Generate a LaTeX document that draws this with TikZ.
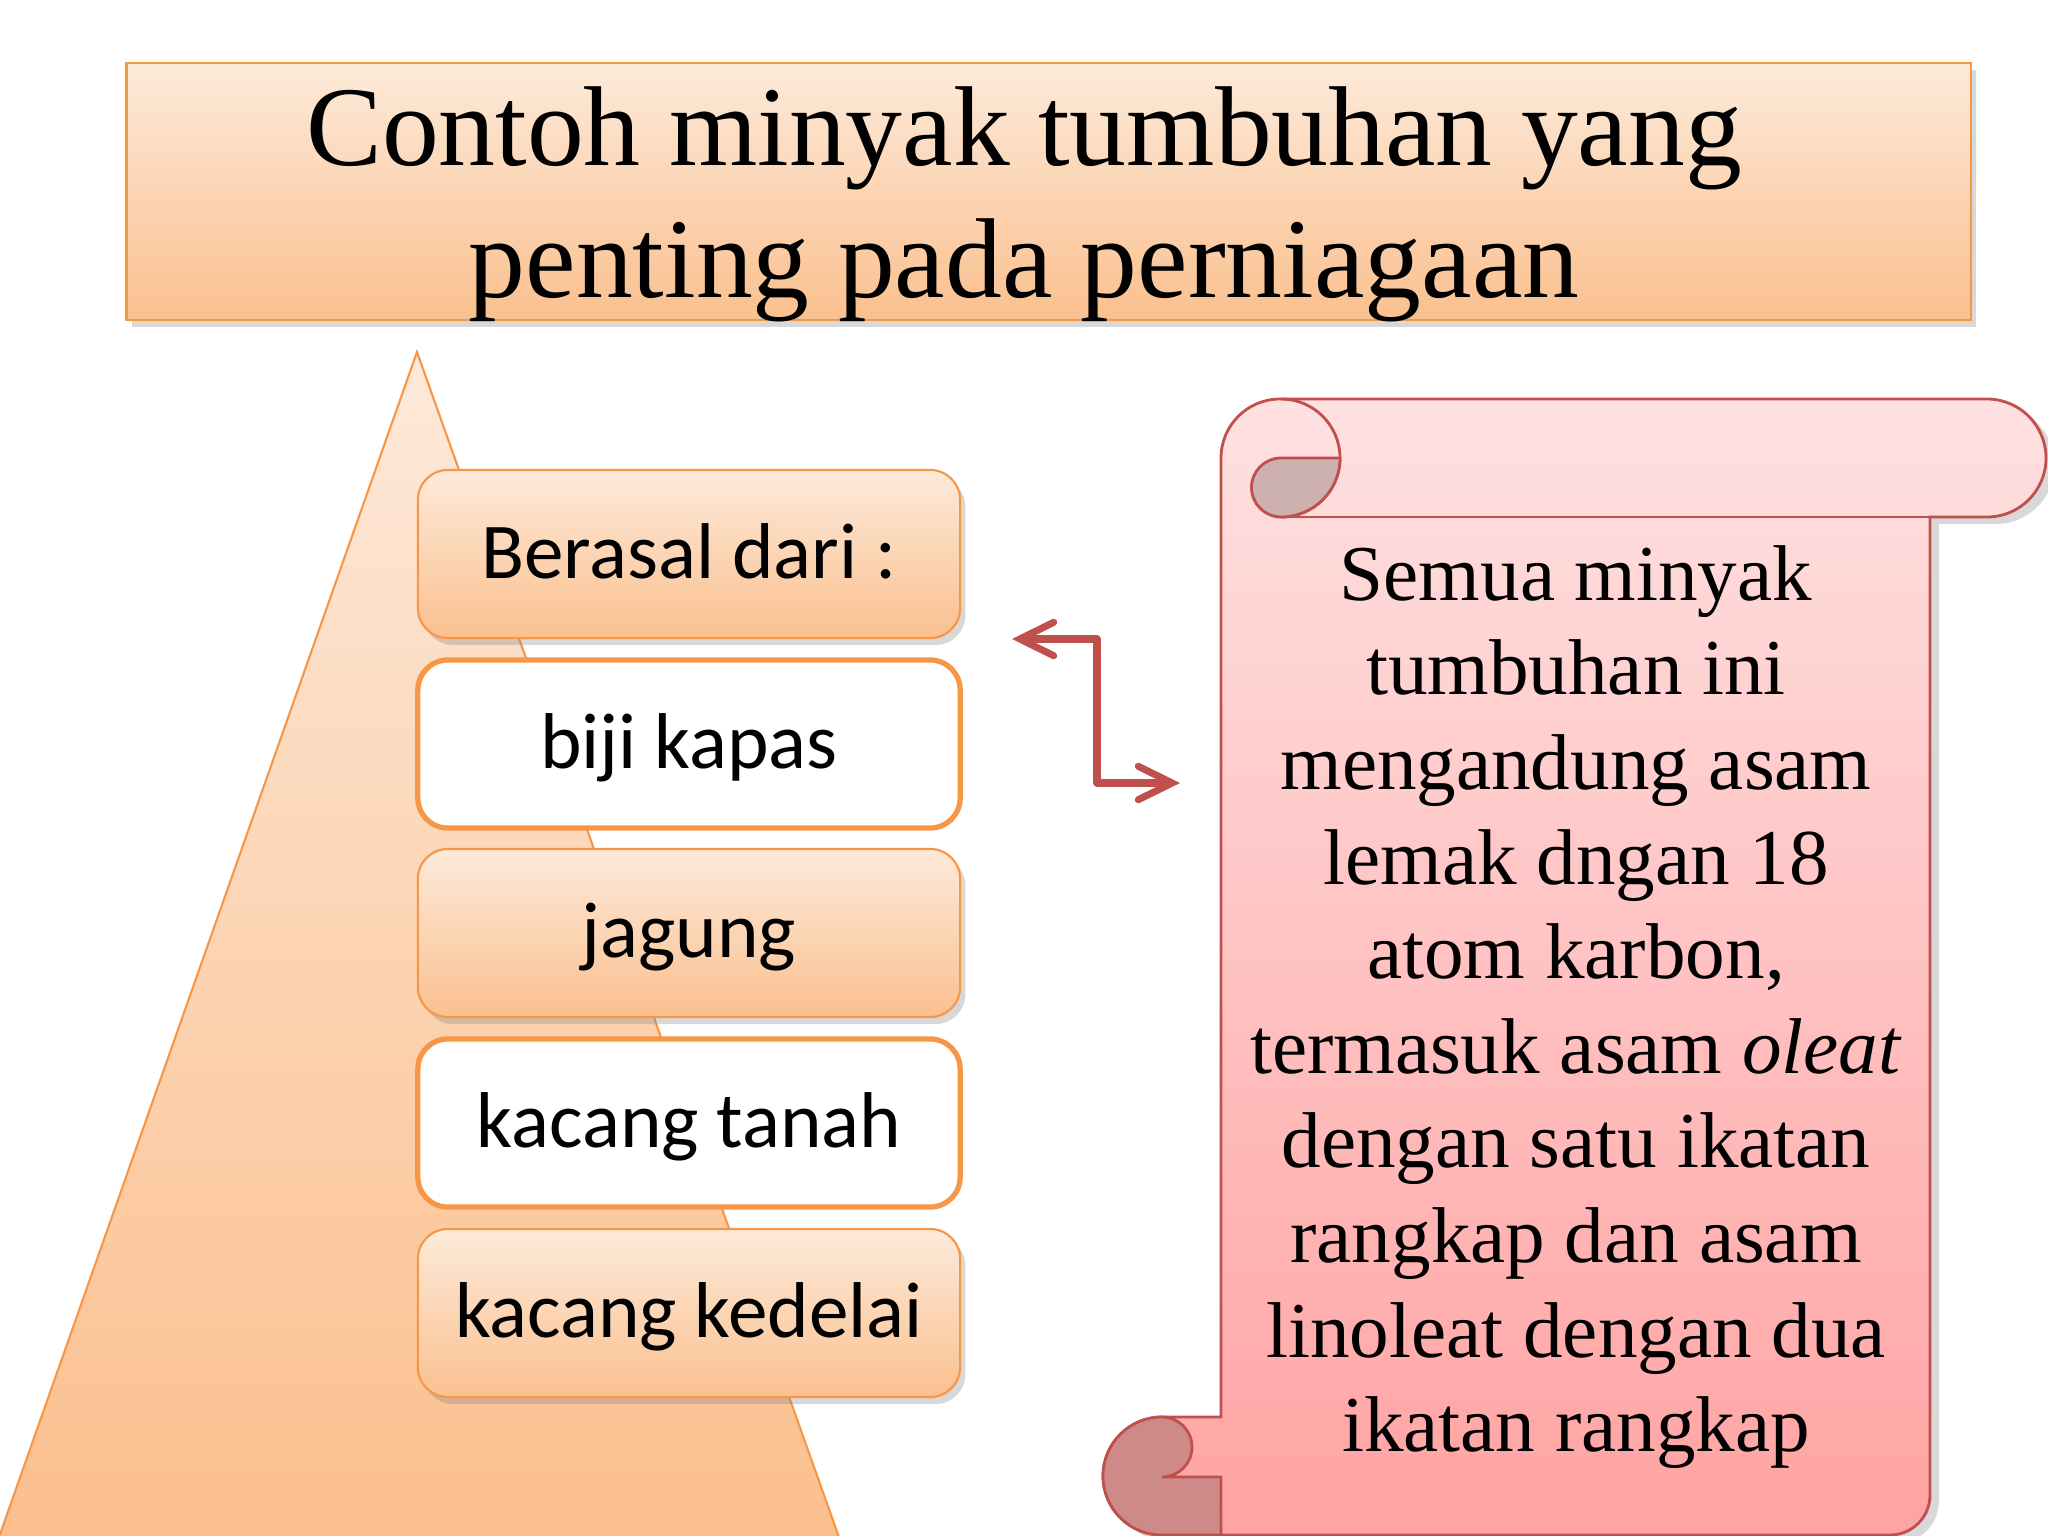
\documentclass[tikz,border=0pt]{standalone}
\usepackage{fontspec}
\setmainfont{Liberation Serif}
\newfontfamily\boxfont{Carlito}
\usetikzlibrary{shadows,arrows.meta}
\definecolor{orline}{HTML}{F79646}
\definecolor{ortop}{HTML}{FDEADA}
\definecolor{orbot}{HTML}{FAC08F}
\definecolor{tritop}{HTML}{FDE9DA}
\definecolor{tribot}{HTML}{FBBF8D}
\definecolor{redline}{HTML}{C0504D}
\definecolor{pinktop}{HTML}{FFE1E1}
\definecolor{pinkbot}{HTML}{FFA3A3}
\definecolor{curltop}{HTML}{CCB1AF}
\definecolor{curlbot}{HTML}{CD8A89}
\tikzset{
  softshadow/.style={drop shadow={opacity=0.3, shadow xshift=1.5pt, shadow yshift=-2pt}},
  gradbox/.style={rectangle, rounded corners=0.3cm, draw=orline, line width=0.6pt,
    top color=ortop, bottom color=orbot, minimum width=5.42cm, minimum height=1.68cm,
    font=\boxfont\fontsize{22.5}{27}\selectfont, text height=17pt, text depth=3pt, softshadow},
  whitebox/.style={rectangle, rounded corners=0.3cm, draw=orline, line width=1.5pt,
    fill=white, minimum width=5.42cm, minimum height=1.68cm,
    font=\boxfont\fontsize{22.5}{27}\selectfont, text height=17pt, text depth=3pt},
  titlebox/.style={rectangle, draw=orline, line width=0.6pt, top color=ortop, bottom color=orbot,
    minimum width=18.43cm, minimum height=2.57cm, softshadow},
  scrolledge/.style={draw=redline, line width=0.8pt},
  arrowline/.style={draw=redline, line width=2pt, line cap=round, line join=round,
    {Straight Barb[length=9.6pt,width=9.5pt,line cap=round]}-{Straight Barb[length=9.6pt,width=9.5pt,line cap=round]}}
}
\begin{document}
\begin{tikzpicture}[x=0.01cm,y=-0.01cm]
\useasboundingbox (0,0) rectangle (2048,1536);
\fill[white] (0,0) rectangle (2048,1536);

% title
\node[titlebox] (title) at (1048.5,191.5) {};
\node[font=\fontsize{32.3}{37.5}\selectfont, align=center] (titletext) at (1024,204)
  {Contoh minyak tumbuhan yang\\penting pada perniagaan};

% pyramid
\path[draw=orline, line width=0.6pt, top color=tritop, bottom color=tribot]
  (417,352) -- (840,1540) -- (-2,1540) -- cycle;

% boxes
\node[gradbox] (b1) at (689,554) {Berasal dari :};
\node[whitebox] (b2) at (689,744) {biji kapas};
\node[gradbox] (b3) at (689,933) {jagung};
\node[whitebox] (b4) at (689,1123) {kacang tanah};
\node[gradbox] (b5) at (689,1313) {kacang kedelai};

% elbow double arrow
\coordinate (arrL) at (1012,639);
\coordinate (arrM) at (1097,711);
\coordinate (arrR) at (1180,783);
\draw[arrowline] (arrL) -| (arrM) |- (arrR);

% scroll body
\path[scrolledge, top color=pinktop, bottom color=pinkbot, drop shadow={opacity=0.3, shadow xshift=2.5pt, shadow yshift=-2pt}]
  (1281,399) -- (1987,399) arc[start angle=-90, end angle=90, radius=59]
  -- (1930,517) -- (1930,1495) arc[start angle=0, end angle=90, radius=40]
  -- (1162,1535) arc[start angle=90, end angle=270, radius=59]
  -- (1221,1417) -- (1221,458) arc[start angle=180, end angle=270, radius=59] -- cycle;
% top curl
\draw[scrolledge] (1281,399) arc[start angle=-90, end angle=90, radius=59];
\draw[scrolledge] (1281,517) -- (1930,517);
\path[scrolledge, fill=curltop] (1281,458) -- (1340,458)
  arc[start angle=0, end angle=90, radius=59]
  arc[start angle=90, end angle=270, radius=29.5] -- cycle;
% bottom curl
\path[scrolledge, fill=curlbot] (1162,1417)
  arc[start angle=270, end angle=90, radius=59]
  -- (1221,1535) -- (1221,1477) -- (1162,1477)
  arc[start angle=90, end angle=-90, radius=30] -- cycle;

\node[font=\fontsize{22.5}{26.9}\selectfont, align=center] (scrolltext) at (1576,1007)
  {Semua minyak\\tumbuhan ini\\mengandung asam\\lemak dngan 18\\atom karbon,\\termasuk asam \textit{oleat}\\dengan satu ikatan\\rangkap dan asam\\linoleat dengan dua\\ikatan rangkap};
\end{tikzpicture}
\end{document}
